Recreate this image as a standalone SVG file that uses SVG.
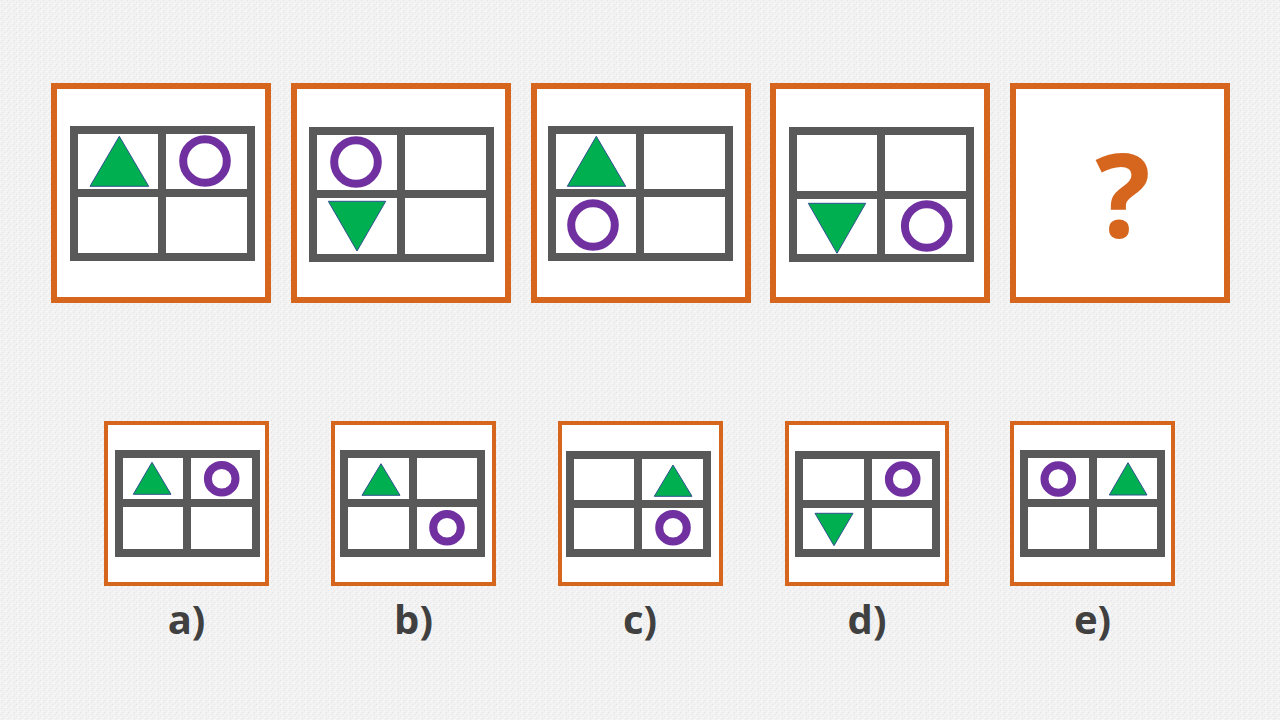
<svg xmlns="http://www.w3.org/2000/svg" width="1280" height="720" viewBox="0 0 1280 720">
  <defs>
    <pattern id="noise" width="6" height="6" patternUnits="userSpaceOnUse">
      <rect width="6" height="6" fill="#F2F2F2"/>
      <rect x="1" y="0" width="1" height="1" fill="#E4E4E4"/>
      <rect x="4" y="2" width="1" height="1" fill="#E6E6E6"/>
      <rect x="2" y="4" width="1" height="1" fill="#E3E3E3"/>
      <rect x="5" y="5" width="1" height="1" fill="#FBFBFB"/>
      <rect x="0" y="3" width="1" height="1" fill="#FAFAFA"/>
    </pattern>
    <style>
      .frameL { fill: #FFFFFF; stroke: #D6661E; stroke-width: 6; }
      .frameS { fill: #FFFFFF; stroke: #D6661E; stroke-width: 4; }
      .grid { fill: #FFFFFF; stroke: #595959; stroke-width: 8; }
      .gline { stroke: #595959; stroke-width: 8; }
      .tri { fill: #00B050; stroke: #2F528F; stroke-width: 1; }
      .ringL { fill: none; stroke: #7030A0; stroke-width: 8; }
      .ringS { fill: none; stroke: #7030A0; stroke-width: 8; }
      .lbl { font-family: "Open Sans", "Noto Sans", "Liberation Sans", sans-serif; font-weight: bold; font-size: 40px; fill: #404040; text-anchor: middle; }
      .q { font-family: "Open Sans", "Noto Sans", "Liberation Sans", sans-serif; font-weight: bold; font-size: 116px; fill: #D6661E; text-anchor: middle; }
    </style>
  </defs>

  <rect x="0" y="0" width="1280" height="720" fill="url(#noise)"/>

  <!-- Top sequence -->
  <g id="seq1">
    <rect class="frameL" x="54" y="86" width="214" height="214"/>
    <rect class="grid" x="74" y="130" width="177" height="127"/>
    <line class="gline" x1="162" y1="130" x2="162" y2="257"/>
    <line class="gline" x1="74" y1="193" x2="251" y2="193"/>
    <polygon class="tri" points="119.3,136.3 90,186.3 148.7,186.3"/>
    <circle class="ringL" cx="205" cy="161" r="21.8"/>
  </g>

  <g id="seq2">
    <rect class="frameL" x="294" y="86" width="214" height="214"/>
    <rect class="grid" x="313" y="131" width="177" height="127"/>
    <line class="gline" x1="401" y1="131" x2="401" y2="258"/>
    <line class="gline" x1="313" y1="194" x2="490" y2="194"/>
    <circle class="ringL" cx="356" cy="162" r="21.8"/>
    <polygon class="tri" points="328.3,201.3 385.7,201.3 357,251"/>
  </g>

  <g id="seq3">
    <rect class="frameL" x="534" y="86" width="214" height="214"/>
    <rect class="grid" x="552" y="130" width="177" height="127"/>
    <line class="gline" x1="640" y1="130" x2="640" y2="257"/>
    <line class="gline" x1="552" y1="193" x2="729" y2="193"/>
    <polygon class="tri" points="596.3,136.3 567.3,186.3 625.7,186.3"/>
    <circle class="ringL" cx="593" cy="225" r="21.8"/>
  </g>

  <g id="seq4">
    <rect class="frameL" x="773" y="86" width="214" height="214"/>
    <rect class="grid" x="793" y="131" width="177" height="127"/>
    <line class="gline" x1="881" y1="131" x2="881" y2="258"/>
    <line class="gline" x1="793" y1="195" x2="970" y2="195"/>
    <polygon class="tri" points="808.3,203.3 865.7,203.3 837,253.3"/>
    <circle class="ringL" cx="926.7" cy="226" r="21.8"/>
  </g>

  <g id="seq5">
    <rect class="frameL" x="1013" y="86" width="214" height="214"/>
    <text class="q" x="1123" y="237">?</text>
  </g>

  <!-- Answer options -->
  <g id="optA">
    <rect class="frameS" x="106" y="423" width="161" height="161"/>
    <rect class="grid" x="119" y="454" width="137" height="99"/>
    <line class="gline" x1="187" y1="454" x2="187" y2="553"/>
    <line class="gline" x1="119" y1="503" x2="256" y2="503"/>
    <polygon class="tri" points="152,462.3 133.3,494.3 171,494.3"/>
    <circle class="ringS" cx="221.7" cy="478.7" r="13.8"/>
    <text class="lbl" x="186.5" y="634">a)</text>
  </g>

  <g id="optB">
    <rect class="frameS" x="333" y="423" width="161" height="161"/>
    <rect class="grid" x="344" y="454" width="137" height="99"/>
    <line class="gline" x1="413" y1="454" x2="413" y2="553"/>
    <line class="gline" x1="344" y1="503" x2="481" y2="503"/>
    <polygon class="tri" points="381,463.7 362,495.3 400,495.3"/>
    <circle class="ringS" cx="447" cy="527.7" r="13.8"/>
    <text class="lbl" x="413.5" y="634">b)</text>
  </g>

  <g id="optC">
    <rect class="frameS" x="560" y="423" width="161" height="161"/>
    <rect class="grid" x="570" y="455" width="137" height="98"/>
    <line class="gline" x1="638" y1="455" x2="638" y2="553"/>
    <line class="gline" x1="570" y1="504" x2="707" y2="504"/>
    <polygon class="tri" points="673,465 654.3,496.3 692,496.3"/>
    <circle class="ringS" cx="673" cy="527.7" r="13.8"/>
    <text class="lbl" x="640" y="634">c)</text>
  </g>

  <g id="optD">
    <rect class="frameS" x="787" y="423" width="160" height="161"/>
    <rect class="grid" x="799" y="455" width="137" height="98"/>
    <line class="gline" x1="868" y1="455" x2="868" y2="553"/>
    <line class="gline" x1="799" y1="504" x2="936" y2="504"/>
    <circle class="ringS" cx="902.7" cy="479" r="13.8"/>
    <polygon class="tri" points="815,513.3 853,513.3 834,545.7"/>
    <text class="lbl" x="867" y="634">d)</text>
  </g>

  <g id="optE">
    <rect class="frameS" x="1012" y="423" width="161" height="161"/>
    <rect class="grid" x="1024" y="454" width="137" height="99"/>
    <line class="gline" x1="1093" y1="454" x2="1093" y2="553"/>
    <line class="gline" x1="1024" y1="503" x2="1161" y2="503"/>
    <circle class="ringS" cx="1058.3" cy="479" r="13.8"/>
    <polygon class="tri" points="1128,462.7 1109.3,495 1147,495"/>
    <text class="lbl" x="1092.5" y="634">e)</text>
  </g>
</svg>
